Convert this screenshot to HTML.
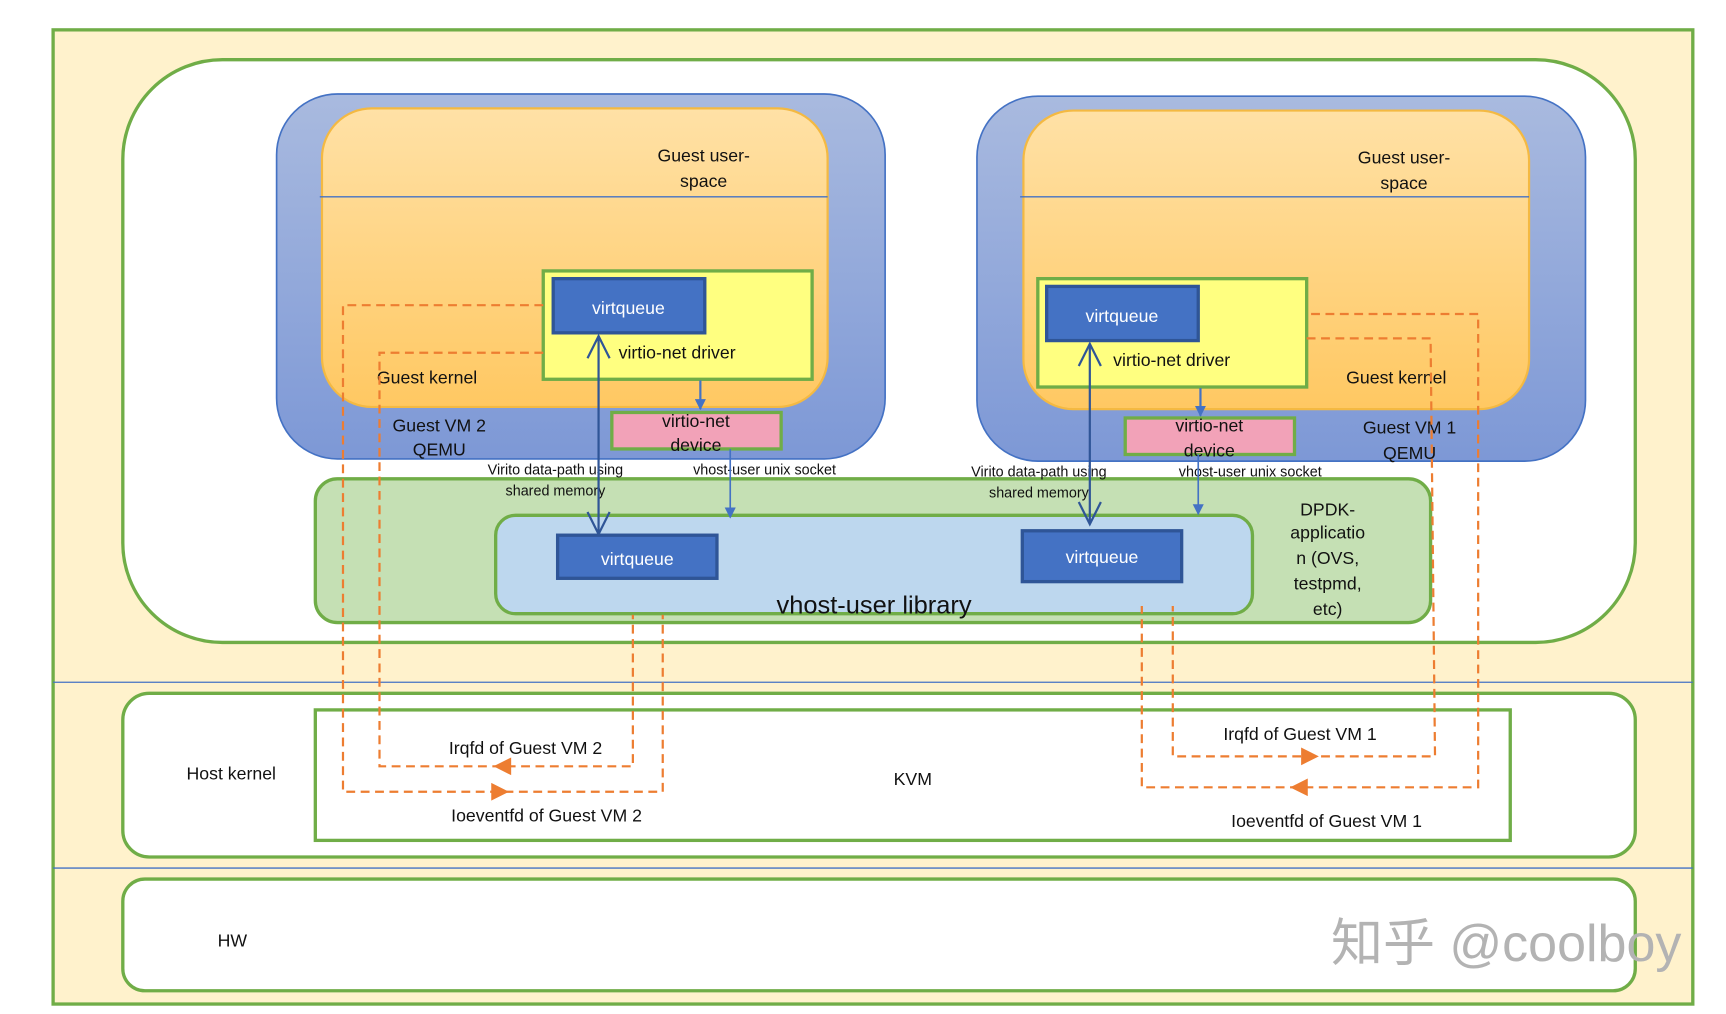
<!DOCTYPE html>
<html><head><meta charset="utf-8"><style>
html,body{margin:0;padding:0;background:#fff;}
svg{display:block;}
text{font-family:"Liberation Sans","Noto Sans CJK SC",sans-serif;fill:#111;}
</style></head><body>
<svg width="1726" height="1014" viewBox="0 0 1560 917" preserveAspectRatio="none" xmlns="http://www.w3.org/2000/svg">
<defs>
<linearGradient id="vm" x1="0" y1="0" x2="0" y2="1"><stop offset="0" stop-color="#a9badf"/><stop offset="1" stop-color="#7d98d6"/></linearGradient>
<linearGradient id="or" x1="0" y1="0" x2="0" y2="1"><stop offset="0" stop-color="#ffe1a6"/><stop offset="1" stop-color="#ffc862"/></linearGradient>
<marker id="fb" markerWidth="10" markerHeight="10" refX="9" refY="5" orient="auto" markerUnits="userSpaceOnUse"><path d="M0,0 L10,5 L0,10 z" fill="#4472c4"/></marker>
</defs>
<rect x="48" y="27" width="1482" height="881" fill="#fff2cc" stroke="#70ad47" stroke-width="3"/>
<line x1="48" y1="617" x2="1530" y2="617" stroke="#4472c4" stroke-width="1.2"/>
<line x1="48" y1="785" x2="1530" y2="785" stroke="#4472c4" stroke-width="1.2"/>
<rect x="111" y="54" width="1367" height="527" rx="90" fill="#fff" stroke="#70ad47" stroke-width="3"/>
<rect x="111" y="627" width="1367" height="148" rx="24" fill="#fff" stroke="#70ad47" stroke-width="3"/>
<rect x="111" y="795" width="1367" height="101" rx="20" fill="#fff" stroke="#70ad47" stroke-width="3"/>
<rect x="285" y="642" width="1080" height="118" fill="none" stroke="#70ad47" stroke-width="3"/>

<!-- VM2 -->
<rect x="250" y="85" width="550" height="330" rx="55" fill="url(#vm)" stroke="#4472c4" stroke-width="1.5"/>
<rect x="291" y="98" width="457" height="270" rx="45" fill="url(#or)" stroke="#f4b942" stroke-width="2"/>
<line x1="289" y1="178" x2="748" y2="178" stroke="#4472c4" stroke-width="1.2"/>
<text x="636" y="146" font-size="16" text-anchor="middle">Guest user-</text>
<text x="636" y="169" font-size="16" text-anchor="middle">space</text>
<rect x="491" y="245" width="243" height="98" fill="#ffff80" stroke="#70ad47" stroke-width="3"/>
<rect x="500" y="252" width="137" height="49" fill="#4472c4" stroke="#2f5597" stroke-width="3"/>
<text x="568" y="284" font-size="16" text-anchor="middle" style="fill:#fff">virtqueue</text>
<text x="612" y="324" font-size="16" text-anchor="middle">virtio-net driver</text>
<text x="386" y="347" font-size="16" text-anchor="middle">Guest kernel</text>
<text x="397" y="390" font-size="16" text-anchor="middle">Guest VM 2</text>
<text x="397" y="412" font-size="16" text-anchor="middle">QEMU</text>
<rect x="553" y="373" width="153" height="33" fill="#f2a2b8" stroke="#70ad47" stroke-width="3"/>
<text x="629" y="386" font-size="16" text-anchor="middle">virtio-net</text>
<text x="629" y="408" font-size="16" text-anchor="middle">device</text>
<line x1="633" y1="344" x2="633" y2="370" stroke="#4472c4" stroke-width="2" marker-end="url(#fb)"/>

<!-- VM1 -->
<rect x="883" y="87" width="550" height="330" rx="55" fill="url(#vm)" stroke="#4472c4" stroke-width="1.5"/>
<rect x="925" y="100" width="457" height="270" rx="45" fill="url(#or)" stroke="#f4b942" stroke-width="2"/>
<line x1="922" y1="178" x2="1382" y2="178" stroke="#4472c4" stroke-width="1.2"/>
<text x="1269" y="148" font-size="16" text-anchor="middle">Guest user-</text>
<text x="1269" y="171" font-size="16" text-anchor="middle">space</text>
<rect x="938" y="252" width="243" height="98" fill="#ffff80" stroke="#70ad47" stroke-width="3"/>
<rect x="946" y="259" width="137" height="49" fill="#4472c4" stroke="#2f5597" stroke-width="3"/>
<text x="1014" y="291" font-size="16" text-anchor="middle" style="fill:#fff">virtqueue</text>
<text x="1059" y="331" font-size="16" text-anchor="middle">virtio-net driver</text>
<text x="1262" y="347" font-size="16" text-anchor="middle">Guest kernel</text>
<text x="1274" y="392" font-size="16" text-anchor="middle">Guest VM 1</text>
<text x="1274" y="415" font-size="16" text-anchor="middle">QEMU</text>
<rect x="1017" y="378" width="153" height="33" fill="#f2a2b8" stroke="#70ad47" stroke-width="3"/>
<text x="1093" y="390" font-size="16" text-anchor="middle">virtio-net</text>
<text x="1093" y="413" font-size="16" text-anchor="middle">device</text>
<line x1="1085" y1="351" x2="1085" y2="376" stroke="#4472c4" stroke-width="2" marker-end="url(#fb)"/>

<!-- DPDK -->
<rect x="285" y="433" width="1008" height="130" rx="20" fill="#c5e0b4" stroke="#70ad47" stroke-width="3"/>
<rect x="448" y="466" width="684" height="89" rx="18" fill="#bdd7ee" stroke="#70ad47" stroke-width="3"/>
<rect x="504" y="484" width="144" height="39" fill="#4472c4" stroke="#2f5597" stroke-width="3"/>
<text x="576" y="511" font-size="16" text-anchor="middle" style="fill:#fff">virtqueue</text>
<rect x="924" y="480" width="144" height="46" fill="#4472c4" stroke="#2f5597" stroke-width="3"/>
<text x="996" y="509" font-size="16" text-anchor="middle" style="fill:#fff">virtqueue</text>
<text x="790" y="555" font-size="23" text-anchor="middle">vhost-user library</text>
<g font-size="16" text-anchor="middle">
<text x="1200" y="466">DPDK-</text><text x="1200" y="487">applicatio</text><text x="1200" y="510">n (OVS,</text><text x="1200" y="533">testpmd,</text><text x="1200" y="556">etc)</text>
</g>
<g font-size="13" text-anchor="middle">
<text x="502" y="429">Virito data-path using</text><text x="502" y="448">shared memory</text>
<text x="691" y="429">vhost-user unix socket</text>
<text x="939" y="431">Virito data-path using</text><text x="939" y="450">shared memory</text>
<text x="1130" y="431">vhost-user unix socket</text>
</g>
<g stroke="#2f5597" stroke-width="2" fill="none">
<line x1="541" y1="304" x2="541" y2="483"/><path d="M531,324 L541,304 L551,324"/><path d="M531,463 L541,483 L551,463"/>
<line x1="985" y1="311" x2="985" y2="474"/><path d="M975,331 L985,311 L995,331"/><path d="M975,454 L985,474 L995,454"/>
</g>
<line x1="660" y1="406" x2="660" y2="468" stroke="#4472c4" stroke-width="1.5" marker-end="url(#fb)"/>
<line x1="1083" y1="411" x2="1083" y2="465" stroke="#4472c4" stroke-width="1.5" marker-end="url(#fb)"/>

<g stroke="#ed7d31" stroke-width="2" fill="none" stroke-dasharray="8,5">
<polyline points="491,276 310,276 310,716 599,716 599,556"/>
<polyline points="491,319 343,319 343,693 572,693 572,556"/>
<polyline points="1181,306 1293,306 1297,684 1060,684 1060,548"/>
<polyline points="1185,284 1336,284 1336,712 1032,712 1032,548"/>
</g>
<path d="M444,708 L460,716 L444,724 z" fill="#ed7d31"/>
<path d="M462,685 L446,693 L462,701 z" fill="#ed7d31"/>
<path d="M1176,676 L1192,684 L1176,692 z" fill="#ed7d31"/>
<path d="M1182,704 L1166,712 L1182,720 z" fill="#ed7d31"/>

<g font-size="16" text-anchor="middle">
<text x="475" y="682">Irqfd of Guest VM 2</text>
<text x="494" y="743">Ioeventfd of Guest VM 2</text>
<text x="825" y="710">KVM</text>
<text x="1175" y="669">Irqfd of Guest VM 1</text>
<text x="1199" y="748">Ioeventfd of Guest VM 1</text>
<text x="209" y="705">Host kernel</text>
<text x="210" y="856">HW</text>
</g>
<text x="1203" y="869" font-size="47" style="fill:#b3b3b3">知乎 @coolboy</text>
</svg>
</body></html>
